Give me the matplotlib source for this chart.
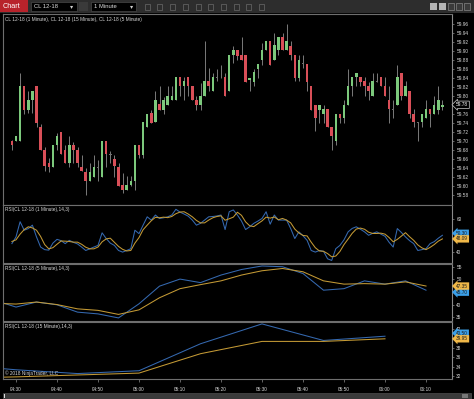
import numpy as np
import matplotlib
matplotlib.use("Agg")
import matplotlib.pyplot as plt
from matplotlib.patches import Rectangle

plt.rcParams['font.family'] = ['Liberation Sans', 'DejaVu Sans']

# CL 12-18, 1 minute bars from 04:29 to 06:14
bar_start = "04:29"
opens = [59.700, 59.700, 59.700, 59.821, 59.769, 59.790, 59.821, 59.731, 59.680, 59.651,
         59.642, 59.690, 59.720, 59.680, 59.651, 59.690, 59.680, 59.642, 59.630, 59.610,
         59.620, 59.640, 59.620, 59.700, 59.671, 59.660, 59.642, 59.602, 59.591, 59.602,
         59.610, 59.691, 59.669, 59.730, 59.762, 59.741, 59.782, 59.769, 59.780, 59.790,
         59.790, 59.841, 59.821, 59.841, 59.821, 59.791, 59.780, 59.800, 59.832, 59.810,
         59.842, 59.845, 59.841, 59.810, 59.891, 59.901, 59.891, 59.891, 59.836, 59.830,
         59.860, 59.880, 59.901, 59.921, 59.880, 59.901, 59.932, 59.901, 59.911, 59.891,
         59.839, 59.872, 59.870, 59.821, 59.780, 59.769, 59.760, 59.771, 59.730, 59.700,
         59.760, 59.750, 59.780, 59.821, 59.841, 59.841, 59.832, 59.821, 59.800, 59.832,
         59.841, 59.821, 59.790, 59.771, 59.780, 59.850, 59.800, 59.810, 59.760, 59.741,
         59.741, 59.750, 59.770, 59.760, 59.769, 59.776]
highs = [59.702, 59.711, 59.851, 59.821, 59.810, 59.811, 59.821, 59.738, 59.687, 59.662,
         59.690, 59.718, 59.720, 59.691, 59.710, 59.698, 59.687, 59.669, 59.640, 59.651,
         59.669, 59.658, 59.700, 59.700, 59.678, 59.669, 59.651, 59.629, 59.621, 59.621,
         59.691, 59.691, 59.741, 59.760, 59.769, 59.810, 59.821, 59.798, 59.821, 59.821,
         59.841, 59.841, 59.841, 59.841, 59.821, 59.800, 59.829, 59.921, 59.862, 59.850,
         59.860, 59.869, 59.850, 59.891, 59.910, 59.901, 59.932, 59.891, 59.840, 59.859,
         59.871, 59.918, 59.921, 59.921, 59.939, 59.932, 59.939, 59.960, 59.921, 59.891,
         59.891, 59.891, 59.870, 59.821, 59.780, 59.780, 59.780, 59.771, 59.730, 59.760,
         59.760, 59.791, 59.859, 59.841, 59.850, 59.841, 59.841, 59.830, 59.850, 59.850,
         59.841, 59.841, 59.821, 59.790, 59.869, 59.850, 59.832, 59.810, 59.770, 59.741,
         59.760, 59.790, 59.770, 59.800, 59.821, 59.790]
lows = [59.680, 59.699, 59.700, 59.760, 59.762, 59.762, 59.731, 59.680, 59.632, 59.631,
        59.642, 59.680, 59.671, 59.651, 59.642, 59.651, 59.642, 59.632, 59.580, 59.610,
        59.620, 59.610, 59.620, 59.642, 59.651, 59.620, 59.600, 59.584, 59.591, 59.598,
        59.591, 59.662, 59.662, 59.730, 59.740, 59.741, 59.769, 59.760, 59.780, 59.790,
        59.790, 59.800, 59.790, 59.800, 59.790, 59.769, 59.769, 59.800, 59.810, 59.810,
        59.832, 59.840, 59.800, 59.810, 59.873, 59.880, 59.880, 59.830, 59.810, 59.821,
        59.840, 59.869, 59.901, 59.869, 59.880, 59.891, 59.901, 59.901, 59.880, 59.832,
        59.832, 59.862, 59.810, 59.769, 59.721, 59.739, 59.740, 59.730, 59.680, 59.691,
        59.739, 59.740, 59.780, 59.800, 59.821, 59.821, 59.800, 59.790, 59.800, 59.830,
        59.821, 59.800, 59.739, 59.750, 59.780, 59.790, 59.800, 59.750, 59.730, 59.700,
        59.730, 59.750, 59.730, 59.760, 59.760, 59.769]
closes = [59.690, 59.711, 59.821, 59.769, 59.791, 59.811, 59.740, 59.680, 59.643, 59.642,
          59.690, 59.711, 59.671, 59.651, 59.690, 59.680, 59.651, 59.632, 59.610, 59.630,
          59.642, 59.642, 59.700, 59.671, 59.669, 59.643, 59.600, 59.591, 59.602, 59.611,
          59.691, 59.669, 59.741, 59.760, 59.740, 59.791, 59.769, 59.791, 59.800, 59.800,
          59.841, 59.821, 59.832, 59.821, 59.790, 59.780, 59.800, 59.832, 59.821, 59.841,
          59.840, 59.843, 59.800, 59.891, 59.901, 59.889, 59.880, 59.830, 59.840, 59.852,
          59.871, 59.901, 59.921, 59.869, 59.913, 59.932, 59.901, 59.921, 59.891, 59.839,
          59.880, 59.870, 59.830, 59.769, 59.750, 59.780, 59.771, 59.730, 59.710, 59.760,
          59.750, 59.780, 59.821, 59.841, 59.850, 59.830, 59.821, 59.810, 59.832, 59.831,
          59.821, 59.800, 59.770, 59.769, 59.841, 59.800, 59.821, 59.760, 59.741, 59.739,
          59.760, 59.770, 59.760, 59.780, 59.790, 59.780]

# RSI(14,3) on the 1 minute series: rsi line and its average
rsi_1m = [45.2, 49.3, 58.6, 53.4, 54.4, 56.5, 49.3, 43.1, 41.5, 41.2,
          45.5, 47.8, 47.0, 45.2, 47.2, 46.0, 45.0, 43.1, 41.0, 42.0,
          43.1, 44.1, 51.8, 48.3, 45.5, 44.1, 41.0, 40.0, 41.0, 42.1,
          53.4, 51.3, 56.5, 61.6, 59.6, 62.7, 60.6, 61.0, 61.6, 62.7,
          66.2, 64.5, 63.3, 62.0, 59.6, 56.5, 57.6, 59.6, 61.6, 61.8,
          62.1, 62.7, 53.8, 64.7, 65.8, 62.7, 59.0, 53.8, 55.5, 57.6,
          59.0, 60.6, 64.7, 57.1, 62.7, 59.6, 59.6, 59.6, 54.4, 48.3,
          52.4, 50.0, 47.2, 41.0, 40.0, 41.0, 40.5, 35.9, 34.9, 42.1,
          44.1, 47.5, 52.4, 54.5, 55.5, 54.0, 52.4, 50.3, 51.5, 52.4,
          51.0, 49.7, 46.0, 43.1, 54.4, 52.0, 49.3, 47.0, 45.2, 41.0,
          41.5, 42.1, 45.2, 46.4, 48.5, 50.3]
avg_1m = [46.5, 47.5, 51.0, 53.8, 55.5, 54.8, 53.4, 49.6, 44.6, 42.0,
          42.7, 44.8, 46.8, 46.7, 46.5, 46.1, 46.1, 44.8, 43.0, 42.0,
          42.0, 43.1, 46.3, 48.1, 48.5, 46.0, 43.5, 41.7, 40.7, 41.0,
          45.5, 48.9, 53.7, 56.5, 59.2, 61.3, 61.0, 61.4, 61.1, 61.8,
          63.5, 64.5, 64.7, 63.3, 61.6, 59.4, 57.9, 57.9, 59.6, 61.0,
          61.8, 62.2, 59.5, 60.4, 61.4, 64.4, 62.5, 58.5, 56.1, 55.6,
          57.4, 59.1, 61.4, 60.8, 61.5, 59.8, 60.6, 59.6, 57.9, 54.1,
          51.7, 50.2, 49.9, 46.1, 42.7, 40.7, 40.5, 39.1, 37.1, 37.6,
          40.4, 44.6, 48.0, 51.5, 54.1, 54.7, 54.0, 52.2, 51.4, 51.4,
          51.6, 51.0, 48.9, 46.3, 47.8, 49.8, 51.9, 49.4, 47.2, 44.4,
          42.6, 41.5, 42.9, 44.6, 46.7, 48.09]

# RSI(14,3) on the 5 minute series
times_5m = ["04:25", "04:30", "04:35", "04:40", "04:45", "04:50", "04:55", "05:00",
            "05:05", "05:10", "05:15", "05:20", "05:25", "05:30", "05:35", "05:40",
            "05:45", "05:50", "05:55", "06:00", "06:05", "06:10"]
rsi_5m = [41.6, 39.0, 41.0, 39.9, 37.0, 36.3, 34.7, 40.3, 47.3, 50.1, 48.7,
          51.7, 53.9, 55.3, 55.0, 52.3, 45.7, 46.3, 49.4, 48.1, 49.4, 45.7]
avg_5m = [40.5, 40.2, 41.0, 40.0, 38.3, 37.7, 36.1, 37.9, 42.7, 46.3, 47.9,
          49.4, 51.7, 53.4, 54.3, 53.0, 49.4, 48.1, 48.3, 48.1, 49.0, 47.35]

# RSI(14,3) on the 15 minute series
times_15m = ["04:15", "04:30", "04:45", "05:00", "05:15", "05:30", "05:45", "06:00"]
rsi_15m = [34.5, 33.4, 32.6, 33.2, 38.9, 43.1, 39.6, 40.5]
avg_15m = [31.6, 31.9, 32.3, 32.7, 36.8, 39.4, 39.4, 39.95]

time_ticks = ["04:30", "04:40", "04:50", "05:00", "05:10", "05:20",
              "05:30", "05:40", "05:50", "06:00", "06:10"]


def to_min(s):
    h, m = s.split(":")
    return int(h) * 60 + int(m)


W, H = 474, 399
fig = plt.figure(figsize=(W / 100, H / 100), dpi=100, facecolor='black')


def px_axes(x0, y0, x1, y1):
    return fig.add_axes([x0 / W, 1 - y1 / H, (x1 - x0) / W, (y1 - y0) / H])


def fig_rect(x0, y0, x1, y1, **kw):
    fig.patches.append(Rectangle((x0 / W, 1 - y1 / H), (x1 - x0) / W, (y1 - y0) / H,
                                 transform=fig.transFigure, **kw))


def fig_text(x, y, s, **kw):
    fig.text(x / W, 1 - y / H, s, **kw)


# toolbar
fig_rect(0, 0, W, 12.5, fc='#2d2d2d', lw=0)
fig_rect(0, 0, 28, 12, fc='#b8232b', lw=0)
fig_text(3, 6.3, "Chart", color='white', fontsize=5.2, va='center')
fig_rect(31, 2, 77, 11, fc='black', ec='#555555', lw=0.4)
fig_text(34, 6.5, "CL 12-18", color='#dddddd', fontsize=4.2, va='center')
fig_text(70, 6.5, "▾", color='#cccccc', fontsize=4.5, va='center')
fig_rect(79, 2, 88, 11, fc='#3a3a3a', lw=0)
fig_rect(91, 2, 136, 11, fc='black', ec='#555555', lw=0.4)
fig_text(94, 6.5, "1 Minute", color='#dddddd', fontsize=4.2, va='center')
fig_text(130, 6.5, "▾", color='#cccccc', fontsize=4.5, va='center')
for ix in [145, 157, 170, 183, 196, 208, 221, 234, 246, 259]:
    fig_rect(ix, 3.5, ix + 5, 10, fc='none', ec='#6a6a6a', lw=0.5)
fig_rect(430, 3, 437, 10, fc='#b5b5b5', lw=0)
fig_rect(439, 3, 446, 10, fc='#b5b5b5', lw=0)
for ix in [448, 456, 464]:
    fig_rect(ix, 3, ix + 6, 10, fc='#3a3a3a', ec='#9a9a9a', lw=0.4)
fig_rect(0, 12.5, W, 13.3, fc='#8a8a8a', lw=0)

# scroll bar
fig_rect(3, 393, 471, 399, fc='#3a3a3a', ec='#5a5a5a', lw=0.4)
fig_rect(4, 394, 5, 398, fc='#dddddd', lw=0)
fig_rect(462, 394, 468, 398, fc='#777777', lw=0)

x_left = to_min("04:30") + (3 - 16) / 4.1
x_right = to_min("04:30") + (452 - 16) / 4.1

ax_p = px_axes(3, 14, 452, 204.5)
ax_1 = px_axes(3, 205, 452, 262.5)
ax_2 = px_axes(3, 263.5, 452, 320.5)
ax_3 = px_axes(3, 321.5, 452, 379)

txt_col = '#d8d8d8'
axis_col = '#8a8a8a'


def style(ax, ylim, yticks, title, fmt):
    ax.set_facecolor('black')
    ax.set_xlim(x_left, x_right)
    ax.set_ylim(*ylim)
    ax.yaxis.tick_right()
    ax.set_yticks(yticks)
    ax.set_yticklabels([fmt.format(v) for v in yticks])
    ax.tick_params(axis='y', length=1.6, width=0.5, colors=axis_col,
                   labelcolor=txt_col, labelsize=3.4, pad=1.5)
    ax.tick_params(axis='x', bottom=False, labelbottom=False)
    for side, sp in ax.spines.items():
        sp.set_color('#6e6e6e')
        sp.set_linewidth(0.8)
    ax.spines['right'].set_color(axis_col)
    ax.annotate(title, xy=(0, 1), xycoords='axes fraction', xytext=(2, -5),
                textcoords='offset pixels', color=txt_col, fontsize=3.4,
                va='center', ha='left')


def value_tag(ax, val, fc, ec='none', tc='#1a1a1a', dy=0):
    ax.annotate(f"{val:.2f}", xy=(1, val), xycoords=('axes fraction', 'data'),
                xytext=(4, dy), textcoords='offset pixels', va='center', ha='left',
                fontsize=3.4, color=tc, annotation_clip=False, zorder=5,
                bbox=dict(boxstyle='larrow,pad=0.25', fc=fc, ec=ec, lw=0.5))


# price panel
price_ticks = [round(59.58 + 0.02 * k, 2) for k in range(20)]
style(ax_p, (59.5578, 59.9822), price_ticks,
      "CL 12-18 (1 Minute), CL 12-18 (15 Minute), CL 12-18 (5 Minute)", "{:.2f}")

t1 = to_min(bar_start) + np.arange(len(opens))
o = np.array(opens)
c = np.array(closes)
up_col, dn_col, doji_col = '#7cc97c', '#d94f58', '#707070'
body_cols = []
for oo, cc in zip(o, c):
    if abs(cc - oo) < 0.003:
        body_cols.append(doji_col)
    elif cc > oo:
        body_cols.append(up_col)
    else:
        body_cols.append(dn_col)
ax_p.vlines(t1, lows, highs, colors='#7a7a7a', lw=0.7, zorder=2)
ax_p.bar(t1, np.maximum(np.abs(c - o), 0.0015), bottom=np.minimum(o, c),
         width=0.62, color=body_cols, lw=0, zorder=3)
value_tag(ax_p, closes[-1], 'black', ec='#d0d0d0', tc='white')

blue, gold = '#3569b0', '#c49a35'

# RSI 1 minute
style(ax_1, (33.64, 68.83), [40, 60], "RSI(CL 12-18 (1 Minute),14,3)", "{:.0f}")
ax_1.plot(t1, rsi_1m, color=blue, lw=0.75)
ax_1.plot(t1, avg_1m, color=gold, lw=0.75)
value_tag(ax_1, rsi_1m[-1], '#3b9fe8', dy=2)
value_tag(ax_1, avg_1m[-1], '#f0b848')

# RSI 5 minute
t5 = [to_min(s) for s in times_5m]
style(ax_2, (33.68, 56.28), [35, 40, 50, 55], "RSI(CL 12-18 (5 Minute),14,3)", "{:.0f}")
ax_2.plot(t5, rsi_5m, color=blue, lw=0.75)
ax_2.plot(t5, avg_5m, color=gold, lw=0.75)
value_tag(ax_2, rsi_5m[-1], '#3b9fe8', dy=-2)
value_tag(ax_2, avg_5m[-1], '#f0b848')

# RSI 15 minute
t15 = [to_min(s) for s in times_15m]
style(ax_3, (31.45, 43.61), [32, 34, 36, 38, 42], "RSI(CL 12-18 (15 Minute),14,3)", "{:.0f}")
ax_3.plot(t15, rsi_15m, color=blue, lw=0.75)
ax_3.plot(t15, avg_15m, color=gold, lw=0.75)
value_tag(ax_3, rsi_15m[-1], '#3b9fe8', dy=3)
value_tag(ax_3, avg_15m[-1], '#f0b848')
ax_3.annotate("© 2018 NinjaTrader, LLC", xy=(0, 0), xycoords='axes fraction',
              xytext=(2, 6), textcoords='offset pixels', color=txt_col,
              fontsize=3.4, va='center', ha='left')

ax_3.set_xticks([to_min(s) for s in time_ticks])
ax_3.set_xticklabels(time_ticks)
ax_3.tick_params(axis='x', bottom=True, labelbottom=True, length=2, width=0.5,
                 colors=axis_col, labelcolor=txt_col, labelsize=3.4, pad=4)

fig.savefig("out.png", dpi=100, facecolor='black')
